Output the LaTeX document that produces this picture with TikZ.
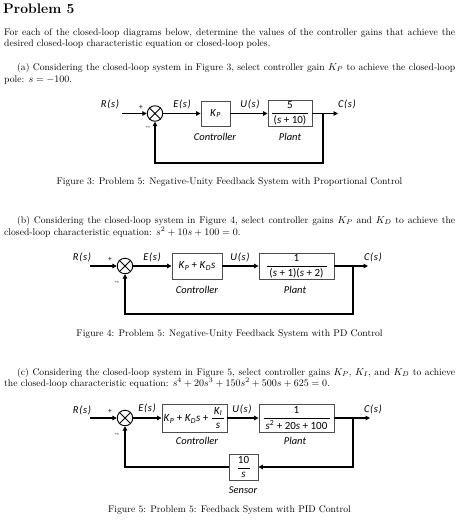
\documentclass[tikz,border=0pt]{standalone}
\usepackage{fontspec}
\usepackage{amsmath}
\newfontfamily\dgf{Carlito}
\newfontfamily\dgm[LetterSpace=6]{Carlito}
\usetikzlibrary{arrows.meta}
\newcommand\dK[1]{\textit{K}\textsubscript{\textit{#1}}}
\newcommand\pl{\hspace{2.5pt}+\hspace{2.5pt}}
\newcommand\dfr[3]{$\dfrac{\makebox[#1]{\upshape #2}}{\makebox[#1]{\upshape #3}}$}
\tikzset{
  sumj/.style={draw, circle, line width=0.9pt, minimum size=15.5pt, inner sep=0pt},
  sumx/.style={line width=0.9pt},
  sig/.style={line width=1.3pt, -{Triangle[length=4.5pt,width=4.5pt]}},
  blk/.style={draw=black!70, line width=0.9pt, inner sep=1pt, font=\dgf\fontsize{11}{12.5}\selectfont},
  lbl/.style={inner sep=0pt, font=\dgf\itshape\fontsize{10.5}{12}\selectfont},
  sigl/.style={inner sep=0pt, font=\dgm\itshape\fontsize{10.5}{12}\selectfont},
  sgn/.style={inner sep=0pt, font=\dgf\fontsize{7.5}{8}\selectfont},
  ptxt/.style={anchor=base west, inner sep=0pt, font=\fontsize{9.64}{11.6}\selectfont},
  capt/.style={anchor=base, inner sep=0pt, font=\fontsize{9.64}{11.6}\selectfont},
}
\begin{document}
\begin{tikzpicture}[x=1pt,y=-1pt]
\useasboundingbox (0,0) rectangle (474,523);
\fill[white] (0,0) rectangle (474,523);

% ---------- text ----------
\node[anchor=base west, inner sep=0pt, font=\fontsize{13.9}{17}\bfseries\selectfont] (title) at (3,13) {Problem 5};
\node[ptxt] (t1) at (4,35) {\makebox[451pt][s]{For each of the closed-loop diagrams below, determine the values of the controller gains that achieve the}};
\node[ptxt] (t2) at (4,46.5) {desired closed-loop characteristic equation or closed-loop poles.};
\node[ptxt] (t3) at (17,70) {\makebox[438pt][s]{(a) Considering the closed-loop system in Figure 3, select controller gain $K_P$ to achieve the closed-loop}};
\node[ptxt] (t4) at (4,82) {pole: $s=-100$.};

% ---------- Figure 3 ----------
\node[sumj] (s1) at (155,113.5) {};
\draw[sumx] (s1.north west) -- (s1.south east) (s1.north east) -- (s1.south west);
\coordinate (r1) at (122,113.5);
\node[sigl] (R1) at (110,104) {R(s)};
\node[sgn] (pl1) at (141,107) {+};
\node[sgn] (mi1) at (148,128) {--};
\node[blk, minimum width=29pt, minimum height=25pt] (c1) at (215.5,113.5) {\dK{P}};
\node[blk, minimum width=44pt, minimum height=25pt] (p1) at (290,113.5) {\dfr{36pt}{5}{(\textit{s}\pl10)}};
\node[sigl] (E1) at (182,104) {E(s)};
\node[sigl] (U1) at (250,104) {U(s)};
\node[sigl] (C1) at (347,104) {C(s)};
\node[lbl] (cl1) at (215,137) {Controller};
\node[lbl] (pn1) at (290,137) {Plant};
\coordinate (b1) at (323,113.5);
\coordinate (o1) at (338,113.5);
\coordinate (f1) at (323,163);
\draw[sig] (r1) -- (s1);
\draw[sig] (s1) -- (c1);
\draw[sig] (c1) -- (p1);
\draw[sig] (p1) -- (o1);
\draw[sig] (b1) -- (f1) -| (s1);
\node[capt] (cap3) at (229.5,184) {Figure 3: Problem 5: Negative-Unity Feedback System with Proportional Control};

% ---------- (b) ----------
\node[ptxt] (t5) at (17,223) {\makebox[438pt][s]{(b) Considering the closed-loop system in Figure 4, select controller gains $K_P$ and $K_D$ to achieve the}};
\node[ptxt] (t6) at (4,235) {closed-loop characteristic equation: $s^2+10s+100=0$.};

% ---------- Figure 4 ----------
\node[sumj] (s2) at (125,266) {};
\draw[sumx] (s2.north west) -- (s2.south east) (s2.north east) -- (s2.south west);
\coordinate (r2) at (90,266);
\node[sigl] (R2) at (82,257) {R(s)};
\node[sgn] (pl2) at (110,259.5) {+};
\node[sgn] (mi2) at (117,283) {--};
\node[blk, minimum width=50pt, minimum height=26pt] (c2) at (197,266) {\dK{P}\pl\dK{D}\textit{s}};
\node[blk, minimum width=75pt, minimum height=26pt] (p2) at (296.5,266) {\dfr{60pt}{1}{(\textit{s}\pl1)(\textit{s}\pl2)}};
\node[sigl] (E2) at (152,257) {E(s)};
\node[sigl] (U2) at (240,257) {U(s)};
\node[sigl] (C2) at (373,257) {C(s)};
\node[lbl] (cl2) at (197,290) {Controller};
\node[lbl] (pn2) at (295,290) {Plant};
\coordinate (b2) at (353,266);
\coordinate (o2) at (368,266);
\coordinate (f2) at (353,314);
\draw[sig] (r2) -- (s2);
\draw[sig] (s2) -- (c2);
\draw[sig] (c2) -- (p2);
\draw[sig] (p2) -- (o2);
\draw[sig] (b2) -- (f2) -| (s2);
\node[capt] (cap4) at (229.5,336) {Figure 4: Problem 5: Negative-Unity Feedback System with PD Control};

% ---------- (c) ----------
\node[ptxt] (t7) at (17,375) {\makebox[438pt][s]{(c) Considering the closed-loop system in Figure 5, select controller gains $K_P$, $K_I$, and $K_D$ to achieve}};
\node[ptxt] (t8) at (4,386.5) {the closed-loop characteristic equation: $s^4+20s^3+150s^2+500s+625=0$.};

% ---------- Figure 5 ----------
\node[sumj] (s3) at (125,418) {};
\draw[sumx] (s3.north west) -- (s3.south east) (s3.north east) -- (s3.south west);
\coordinate (r3) at (90,418);
\node[sigl] (R3) at (82,410) {R(s)};
\node[sgn] (pl3) at (110,411.5) {+};
\node[sgn] (mi3) at (117,435) {--};
\node[blk, minimum width=65pt, minimum height=28pt, inner sep=0pt] (c3) at (194.5,418) {\dK{P}\pl\dK{D}\textit{s}\pl\dfr{12pt}{\dK{I}}{\textit{s}}};
\node[blk, minimum width=75pt, minimum height=28pt] (p3) at (296.5,418) {\dfr{66pt}{1}{\textit{s}\textsuperscript{2}\pl20\textit{s}\pl100}};
\node[blk, minimum width=29pt, minimum height=26pt] (h3) at (243.5,467) {\dfr{12pt}{10}{\textit{s}}};
\node[sigl] (E3) at (147,408) {E(s)};
\node[sigl] (U3) at (242,409) {U(s)};
\node[sigl] (C3) at (373,409) {C(s)};
\node[lbl] (cl3) at (197,441) {Controller};
\node[lbl] (pn3) at (295,441) {Plant};
\node[lbl] (sn3) at (243,490) {Sensor};
\coordinate (b3) at (353,418);
\coordinate (o3) at (370,418);
\coordinate (f3) at (353,467);
\coordinate (g3) at (125,467);
\draw[sig] (r3) -- (s3);
\draw[sig] (s3) -- (c3);
\draw[sig] (c3) -- (p3);
\draw[sig] (p3) -- (o3);
\draw[sig] (b3) -- (f3) -- (h3);
\draw[sig] (h3) -- (g3) -- (s3);
\node[capt] (cap5) at (229.5,512) {Figure 5: Problem 5: Feedback System with PID Control};
\end{tikzpicture}
\end{document}
